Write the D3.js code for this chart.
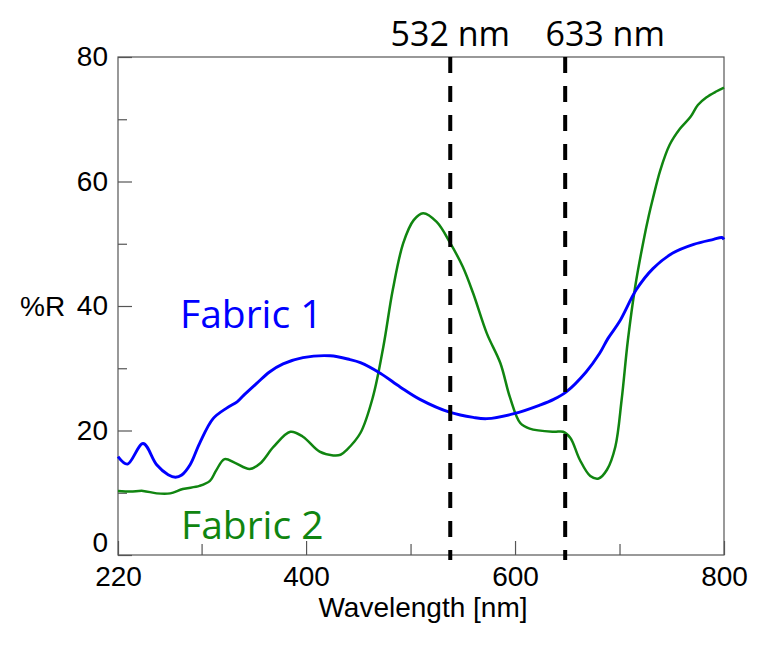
<!DOCTYPE html>
<html>
<head>
<meta charset="utf-8">
<script src="https://cdn.jsdelivr.net/npm/d3@7"></script>
<style>
  body { margin: 0; background: #fff; }
</style>
</head>
<body>
<div id="chart"></div>
<script>
// wavelength (nm) and reflectance (%R)
var fabric1Nm = [220, 229, 244, 257, 268, 275, 281, 289, 298, 311, 324, 334, 340, 353, 365, 378, 397, 423, 442, 452, 471, 490, 509, 538, 560, 573, 599, 624, 637, 649, 668, 681, 689, 700, 716, 732, 751, 771, 790, 798, 800];
var fabric1R  = [15.8, 14.6, 17.9, 14.5, 12.9, 12.5, 12.85, 14.5, 17.9, 21.9, 23.6, 24.6, 25.6, 27.6, 29.4, 30.7, 31.7, 32.0, 31.4, 30.9, 29.2, 27.0, 25.0, 22.9, 22.1, 21.9, 22.7, 24.1, 25.0, 26.2, 29.4, 32.4, 34.8, 37.5, 42.6, 46.0, 48.5, 49.9, 50.7, 51.0, 50.7];

var fabric2Nm = [220, 232, 244, 257, 270, 282, 298, 308, 314, 322, 332, 346, 356, 369, 385, 397, 413, 426, 433, 439, 452, 464, 474, 483, 493, 503, 512, 525, 538, 550, 560, 573, 586, 595, 605, 614, 637, 646, 653, 662, 672, 680, 688, 696, 702, 708, 715, 723, 728, 732, 739, 748, 758, 768, 775, 783, 793, 800];
var fabric2R  = [10.3, 10.2, 10.3, 9.9, 9.9, 10.6, 11.1, 11.9, 13.6, 15.4, 14.8, 13.8, 14.7, 17.4, 19.8, 19.0, 16.6, 16.0, 16.1, 16.9, 19.6, 25.4, 33.5, 42.6, 50.1, 53.8, 54.9, 53.5, 50.1, 46.3, 42.0, 35.6, 30.8, 25.4, 21.2, 20.3, 19.8, 19.8, 18.8, 15.3, 12.7, 12.3, 13.7, 17.4, 24.9, 34.5, 43.1, 50.5, 54.5, 57.3, 61.8, 65.9, 68.5, 70.4, 72.3, 73.5, 74.5, 75.1];

// laser lines: where they sit on the axis, and what they are called
var laserPos    = [538, 648];
var laserLabels = ["532 nm", "633 nm"];

var xLabelTicks = [220, 400, 600, 800];
var xMinorTicks = [300, 500, 700];
var yMajorTicks = [0, 20, 40, 60, 80];
var yMinorTicks = [10, 30, 50, 70];

var width = 768,
    height = 646;

var plotLeft = 118, plotRight = 724, plotTop = 57, plotBottom = 555;

var x = d3.scaleLinear().domain([220, 800]).range([plotLeft, plotRight]);
var y = d3.scaleLinear().domain([0, 80]).range([plotBottom, plotTop]);

var sansFont = "Liberation Sans, Arial, sans-serif",
    labelFont = "Open Sans, sans-serif";

var svg = d3.select("#chart").append("svg")
    .attr("width", width)
    .attr("height", height)
    .attr("font-family", sansFont);

var axisColor = "#555";

// x axis: minor ticks, then labelled ticks
svg.append("g")
    .attr("transform", "translate(0," + plotBottom + ")")
    .call(d3.axisBottom(x).tickValues(xMinorTicks).tickSize(-11).tickFormat(""))
    .call(function(g) { g.select(".domain").remove(); });

var xAxis = svg.append("g")
    .attr("transform", "translate(0," + plotBottom + ")")
    .call(d3.axisBottom(x).tickValues(xLabelTicks).tickSize(-14).tickPadding(11).tickFormat(d3.format("d")));
xAxis.select(".domain").remove();
xAxis.selectAll("text").attr("font-size", 28).attr("font-family", sansFont).attr("fill", "#000");

// y axis
svg.append("g")
    .attr("transform", "translate(" + plotLeft + ",0)")
    .call(d3.axisLeft(y).tickValues(yMinorTicks).tickSize(-9).tickFormat(""))
    .call(function(g) { g.select(".domain").remove(); });

var yAxis = svg.append("g")
    .attr("transform", "translate(" + plotLeft + ",0)")
    .call(d3.axisLeft(y).tickValues(yMajorTicks).tickSize(-14).tickPadding(10).tickFormat(d3.format("d")));
yAxis.select(".domain").remove();
yAxis.selectAll("text").attr("font-size", 28).attr("font-family", sansFont).attr("fill", "#000");
// the 0 label sits a little above its tick
yAxis.selectAll("text").filter(function(d) { return d === 0; }).attr("y", -12);

svg.selectAll(".tick line").attr("stroke", axisColor).attr("stroke-width", 1.2);

// frame
svg.append("rect")
    .attr("x", plotLeft)
    .attr("y", plotTop)
    .attr("width", plotRight - plotLeft)
    .attr("height", plotBottom - plotTop)
    .attr("fill", "none")
    .attr("stroke", axisColor)
    .attr("stroke-width", 1.2);

// axis titles
svg.append("text")
    .attr("x", (plotLeft + plotRight) / 2 + 2)
    .attr("y", 617)
    .attr("text-anchor", "middle")
    .attr("font-size", 28)
    .text("Wavelength [nm]");

svg.append("text")
    .attr("x", 20)
    .attr("y", y(40) + 10)
    .attr("font-size", 28)
    .text("%R");

// spectra
var lineFunction = d3.line()
    .x(function(d) { return x(d[0]); })
    .y(function(d) { return y(d[1]); })
    .curve(d3.curveCatmullRom);

svg.append("path")
    .attr("d", lineFunction(d3.zip(fabric2Nm, fabric2R)))
    .attr("stroke", "#108510")
    .attr("stroke-width", 2.5)
    .attr("fill", "none");

svg.append("path")
    .attr("d", lineFunction(d3.zip(fabric1Nm, fabric1R)))
    .attr("stroke", "#0000ff")
    .attr("stroke-width", 2.9)
    .attr("fill", "none");

// dashed laser lines
svg.selectAll(".laser")
    .data(laserPos)
  .enter().append("line")
    .attr("class", "laser")
    .attr("x1", function(d) { return x(d); })
    .attr("x2", function(d) { return x(d); })
    .attr("y1", plotTop)
    .attr("y2", plotBottom + 5)
    .attr("stroke", "#000")
    .attr("stroke-width", 4)
    .attr("stroke-dasharray", "16,13");

svg.selectAll(".laserLabel")
    .data(laserLabels)
  .enter().append("text")
    .attr("class", "laserLabel")
    .attr("x", function(d, i) { return i === 0 ? x(laserPos[i]) : x(laserPos[i]) + 40; })
    .attr("y", 46)
    .attr("text-anchor", "middle")
    .attr("font-family", labelFont)
    .attr("font-size", 34)
    .text(function(d) { return d; });

// series labels
svg.append("text")
    .attr("x", 180)
    .attr("y", 328)
    .attr("font-family", labelFont)
    .attr("font-size", 39)
    .attr("fill", "#0000ff")
    .text("Fabric 1");

svg.append("text")
    .attr("x", 181)
    .attr("y", 539)
    .attr("font-family", labelFont)
    .attr("font-size", 39)
    .attr("fill", "#108510")
    .text("Fabric 2");
</script>
</body>
</html>
